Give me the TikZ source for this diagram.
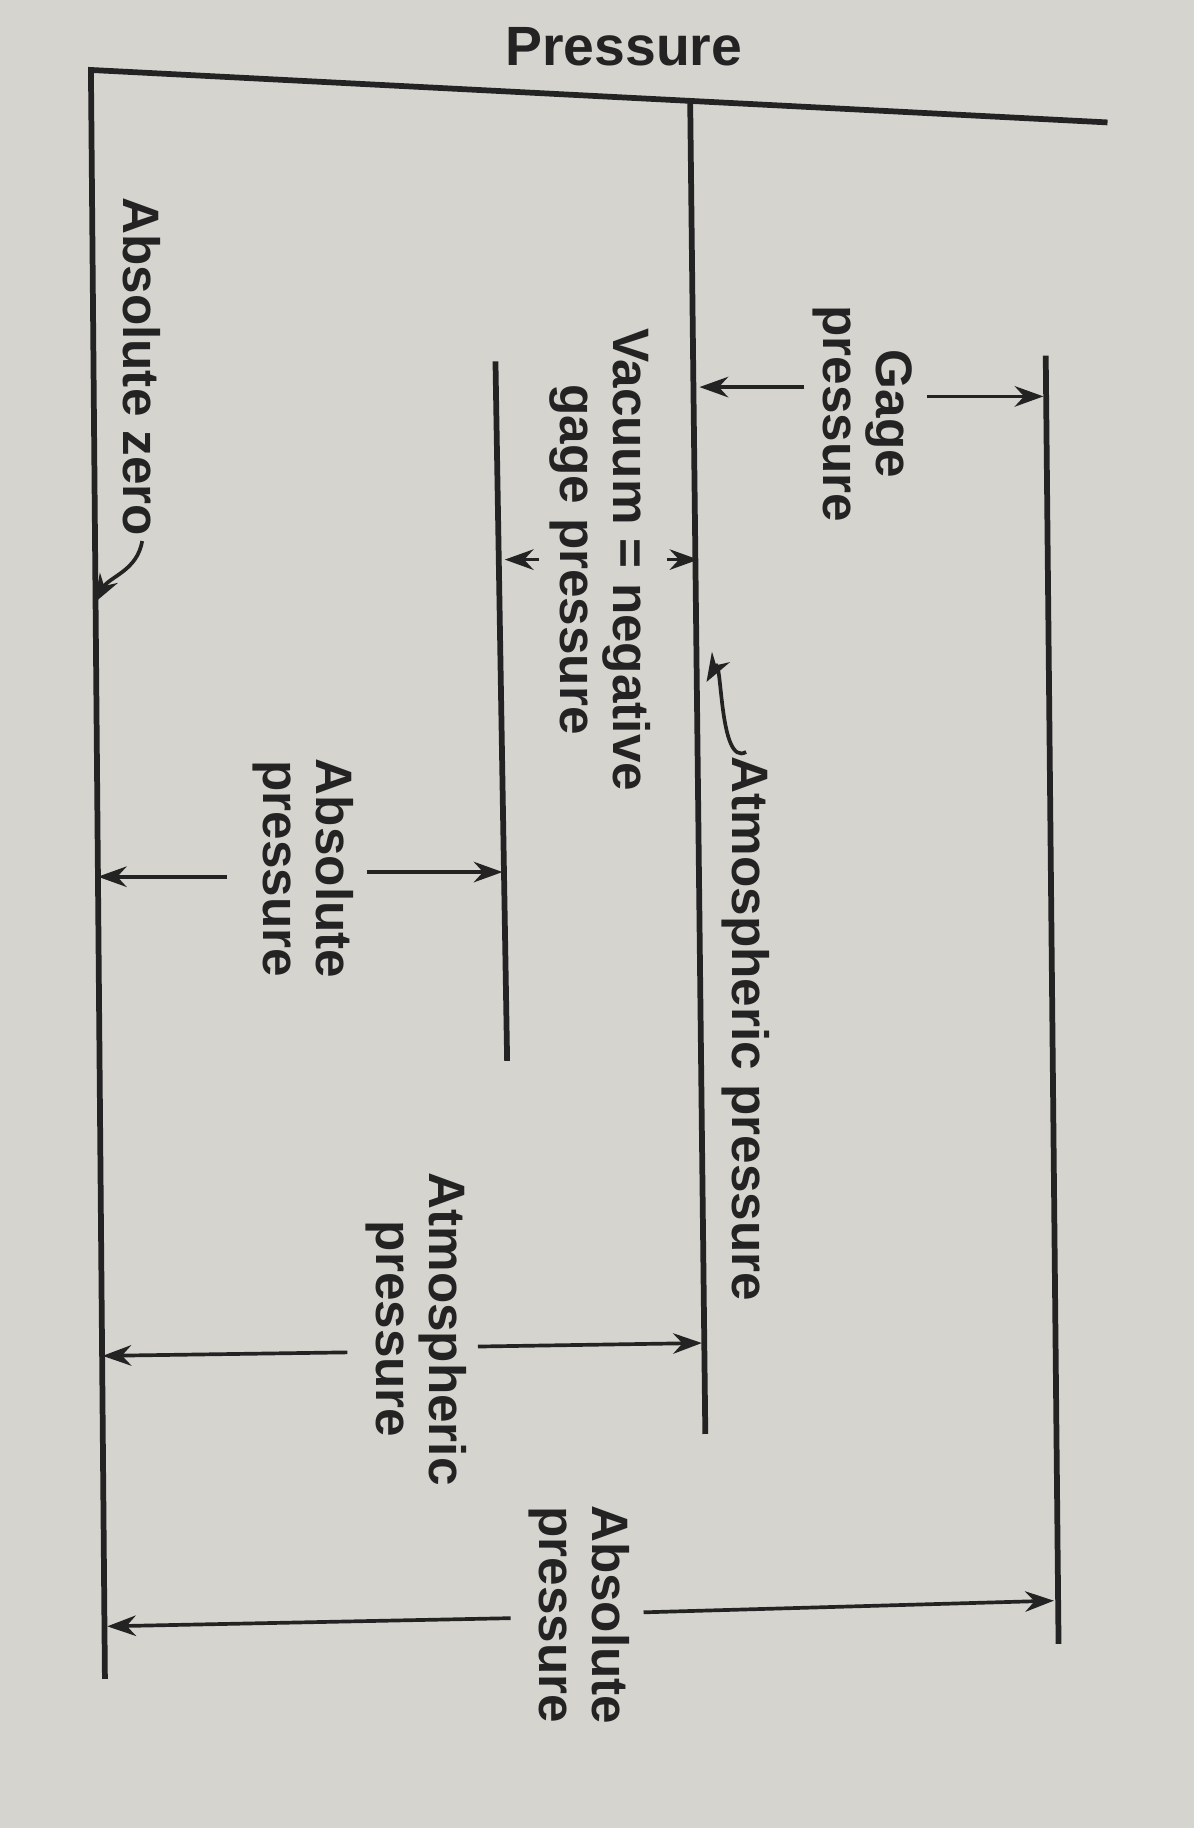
\documentclass[tikz,border=0pt]{standalone}
\usepackage{fontspec}
\setmainfont{Liberation Sans}
\usetikzlibrary{arrows.meta}
\definecolor{paper}{RGB}{214,212,206}
\definecolor{ink}{RGB}{35,35,35}
\begin{document}
\begin{tikzpicture}[x=0.01cm,y=-0.01cm,
  ln/.style={line width=1.4pt,draw=ink},
  dim/.style={line width=0.9pt,draw=ink,-{Stealth[length=7pt,width=5pt]}},
  lbl/.style={rotate=-90,align=center,font=\fontsize{12.5}{13}\selectfont\bfseries,text=ink},
  every node/.style={inner sep=1pt}]
\fill[paper] (0,0) rectangle (1024,1568);
\useasboundingbox (0,0) rectangle (1024,1568);
\coordinate (TL) at (78,60); \coordinate (TR) at (950,105);
\coordinate (BL) at (90,1440);
\draw[ln] (TR) -- (TL) -- (BL);
\draw[ln] (592,85) coordinate (A1) -- (605,1230) coordinate (A2);
\draw[ln] (897,305) coordinate (R1) -- (908,1410) coordinate (R2);
\draw[ln] (425,310) coordinate (S1) -- (435,910) coordinate (S2);
\node[font=\fontsize{13.5}{14}\selectfont\bfseries,text=ink] (P) at (535,40) {Pressure};
\node[lbl] (gage) at (740,355) {Gage\\pressure};
\draw[dim] (690,332) -- (600,332);
\draw[dim] (795,340) -- (895,340);
\node[lbl] (vac) at (515,480) {Vacuum = negative\\gage pressure};
\draw[dim] (572,480) -- (599,480);
\draw[dim] (462,480) -- (433,480);
\node[lbl,anchor=west] (atm) at (640,645) {Atmospheric pressure};
\draw[line width=0.9pt,draw=ink,-{Stealth[length=7pt,width=5pt]}] (atm.west) to[out=-150,in=60] (606,585);
\node[lbl,anchor=west] (az) at (122,165) {Absolute zero};
\draw[line width=0.9pt,draw=ink,-{Stealth[length=7pt,width=5pt]}] (az.east) to[out=-100,in=60] (81,517);
\node[lbl] (ap1) at (260,745) {Absolute\\pressure};
\draw[dim] (195,752) -- (84,752);
\draw[dim] (315,748) -- (431,748);
\node[lbl] (ap2) at (357,1140) {Atmospheric\\pressure};
\draw[dim] (298,1160) -- (88,1163);
\draw[dim] (410,1155) -- (602,1152);
\node[lbl] (ap3) at (497,1385) {Absolute\\pressure};
\draw[dim] (438,1388) -- (92,1395);
\draw[dim] (552,1383) -- (904,1373);
\end{tikzpicture}
\end{document}
